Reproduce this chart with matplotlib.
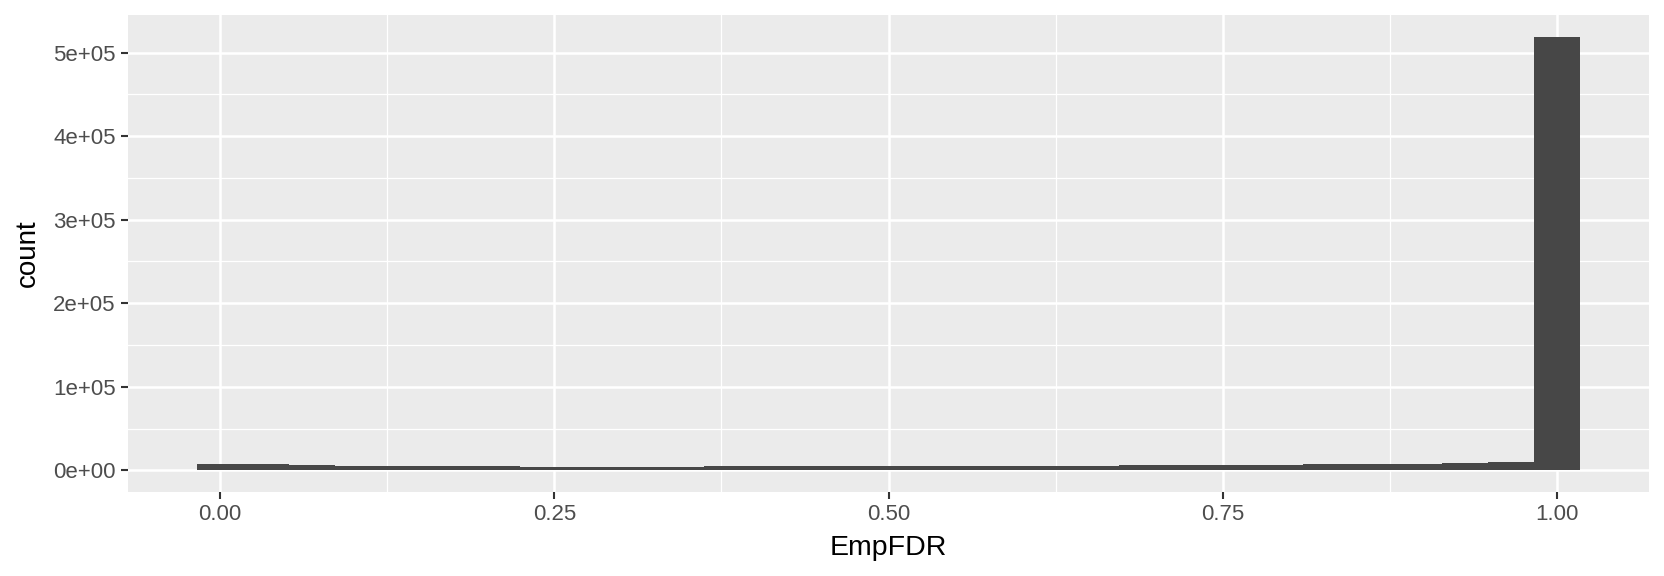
import numpy as np
import matplotlib
matplotlib.use('Agg')
import matplotlib.pyplot as plt

# histogram of EmpFDR, 30 bins (counts)
N_BINS = 30
counts = [7200, 7200, 6000, 4800, 4800, 4800, 4800, 3600, 3600, 3600,
          3600, 4800, 4800, 4800, 4800, 4800, 4800, 4800, 4800, 4800,
          6000, 6000, 6000, 6000, 7200, 7200, 7200, 8400, 9600, 519000]

x_ticks = [0.0, 0.25, 0.5, 0.75, 1.0]
x_tick_labels = ['0.00', '0.25', '0.50', '0.75', '1.00']
y_ticks = [0, 100000, 200000, 300000, 400000, 500000]
y_tick_labels = ['0e+00', '1e+05', '2e+05', '3e+05', '4e+05', '5e+05']

BG = '#EBEBEB'
BAR = '#474747'

plt.rcParams['font.family'] = ['Liberation Sans', 'DejaVu Sans']


def main():
  width = 1 / (N_BINS - 1)
  centers = np.arange(N_BINS) * width

  fig = plt.figure(figsize=(16.64, 5.76), dpi=100)
  ax = fig.add_axes([128 / 1664, 1 - 492 / 576, (1649 - 128) / 1664, (492 - 15) / 576])
  ax.set_facecolor(BG)

  ax.bar(centers, counts, width=width, color=BAR, linewidth=0, zorder=3)

  # ggplot style 5% expansion
  lo, hi = -width / 2, 1 + width / 2
  pad = 0.05 * (hi - lo)
  ax.set_xlim(lo - pad, hi + pad)
  ymax = max(counts)
  ax.set_ylim(-0.05 * ymax, 1.05 * ymax)

  ax.set_xticks(x_ticks)
  ax.set_xticklabels(x_tick_labels)
  ax.set_xticks([0.125, 0.375, 0.625, 0.875], minor=True)
  ax.set_yticks(y_ticks)
  ax.set_yticklabels(y_tick_labels)
  ax.set_yticks([50000, 150000, 250000, 350000, 450000], minor=True)

  ax.grid(True, which='major', color='white', linewidth=1.8, zorder=0)
  ax.grid(True, which='minor', color='white', linewidth=0.9, zorder=0)
  ax.set_axisbelow(True)

  for s in ax.spines.values():
    s.set_visible(False)
  ax.tick_params(which='major', length=5, width=1.5, color='#333333',
                 labelsize=16, labelcolor='#4D4D4D', pad=4)
  ax.tick_params(which='minor', length=0)

  ax.set_xlabel('EmpFDR', fontsize=20.5, color='black', labelpad=7)
  ax.set_ylabel('count', fontsize=20, color='black', labelpad=9)

  fig.savefig('out.png', dpi=100, facecolor='white')


if __name__ == '__main__':
  main()
